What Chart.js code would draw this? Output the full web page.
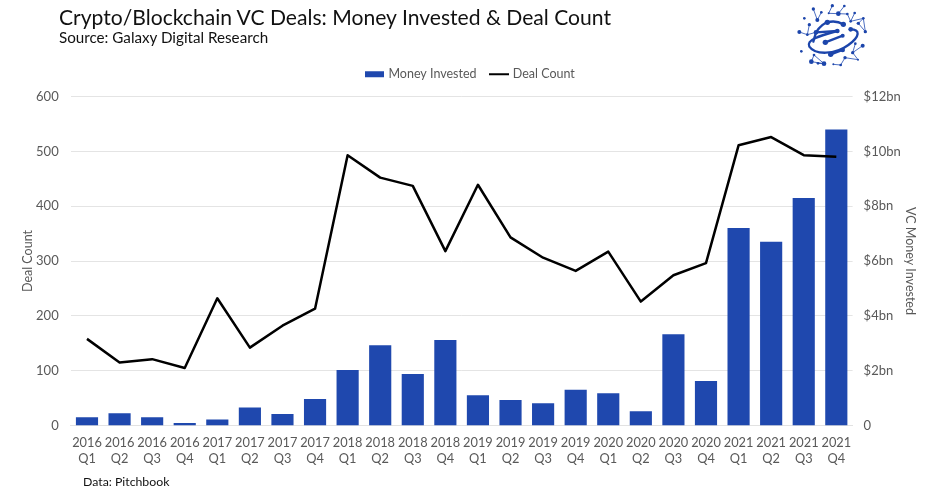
<!DOCTYPE html>
<html lang="en">
<head>
<meta charset="UTF-8">
<title>Crypto/Blockchain VC Deals</title>
<script src="https://cdn.jsdelivr.net/npm/chart.js"></script>
<style>
  html, body { margin: 0; padding: 0; background: #fff; }
  #wrap { position: relative; width: 932px; height: 498px; overflow: hidden; font-family: Lato, sans-serif; }
  #chart { position: absolute; left: 0; top: 0; }
  .txt { position: absolute; white-space: nowrap; color: #111; }
  #title { left: 59px; top: 3px; font-size: 21.1px; line-height: 28px; }
  #source { left: 59px; top: 28px; font-size: 15.2px; line-height: 18px; }
  #note { left: 83px; top: 474px; font-size: 12.3px; line-height: 16px; }
  #logo { position: absolute; left: 780px; top: 0; filter: blur(0.3px); }
</style>
</head>
<body>
<div id="wrap">
  <canvas id="chart" width="932" height="498"></canvas>
  <div class="txt" id="title">Crypto/Blockchain VC Deals: Money Invested &amp; Deal Count</div>
  <div class="txt" id="source">Source: Galaxy Digital Research</div>
  <div class="txt" id="note">Data: Pitchbook</div>
  <svg id="logo" width="100" height="75" viewBox="0 0 300 225">
    <g stroke="#2a52b5" stroke-width="2.5" fill="none">
      <path d="M100 27 L112 60 L124 37"/><path d="M157 17 L146 40 L175 41 L193 18"/>
      <path d="M175 41 L202 42 L212 64 L224 39"/><path d="M212 64 L250 55 L256 95 L235 70 L250 55"/>
      <path d="M88 74 L82 104 L58 96"/><path d="M82 104 L108 97"/>
      <path d="M226 131 L218 158 L248 137"/><path d="M218 158 L234 179 L195 173 L182 195 L160 193"/>
      <path d="M102 165 L94 185 L132 191 L114 190"/><path d="M102 165 L132 191"/>
    </g>
    <g stroke="#1c45ab" stroke-width="7" fill="none" stroke-linecap="round">
      <path d="M108 97 C120 78 135 68 142 67 C160 62 178 66 190 73"/>
      <path d="M108 97 L172 93"/>
      <path d="M212 88 C240 88 242 108 205 135 C165 165 105 165 88 140 C78 120 115 108 172 93"/>
      <path d="M136 127 L188 107"/>
      <path d="M108 97 L100 125"/><path d="M152 163 L188 150"/>
    </g>
    <g fill="#1c45ab">
      <circle cx="100" cy="27" r="5"/><circle cx="157" cy="17" r="5"/><circle cx="193" cy="18" r="4"/>
      <circle cx="124" cy="37" r="4"/><circle cx="175" cy="41" r="7"/><circle cx="146" cy="40" r="3"/>
      <circle cx="202" cy="42" r="4"/><circle cx="224" cy="39" r="4"/><circle cx="73" cy="55" r="4"/>
      <circle cx="112" cy="60" r="6"/><circle cx="142" cy="67" r="8"/><circle cx="190" cy="73" r="8"/>
      <circle cx="212" cy="64" r="4"/><circle cx="250" cy="55" r="4"/><circle cx="235" cy="70" r="5"/>
      <circle cx="88" cy="74" r="5"/><circle cx="58" cy="96" r="6"/><circle cx="82" cy="104" r="4"/>
      <circle cx="108" cy="97" r="7"/><circle cx="172" cy="93" r="7"/><circle cx="212" cy="88" r="7"/>
      <circle cx="256" cy="95" r="5"/><circle cx="188" cy="107" r="6"/><circle cx="136" cy="127" r="8"/>
      <circle cx="226" cy="131" r="4"/><circle cx="248" cy="137" r="6"/><circle cx="188" cy="150" r="7"/>
      <circle cx="64" cy="154" r="4"/><circle cx="152" cy="163" r="8"/><circle cx="218" cy="158" r="5"/>
      <circle cx="102" cy="165" r="4"/><circle cx="195" cy="173" r="5"/><circle cx="234" cy="179" r="3"/>
      <circle cx="94" cy="185" r="7"/><circle cx="114" cy="190" r="4"/><circle cx="132" cy="191" r="7"/>
      <circle cx="160" cy="193" r="3"/><circle cx="182" cy="195" r="4"/>
    </g>
  </svg>
</div>
<script>
  const years = ['2016','2016','2016','2016','2017','2017','2017','2017','2018','2018','2018','2018',
                 '2019','2019','2019','2019','2020','2020','2020','2020','2021','2021','2021','2021'];
  const quarters = ['Q1','Q2','Q3','Q4','Q1','Q2','Q3','Q4','Q1','Q2','Q3','Q4',
                    'Q1','Q2','Q3','Q4','Q1','Q2','Q3','Q4','Q1','Q2','Q3','Q4'];
  // $bn
  const moneyInvested = [0.3, 0.45, 0.3, 0.09, 0.22, 0.66, 0.42, 0.97, 2.02, 2.93, 1.88, 3.12,
                         1.1, 0.93, 0.81, 1.3, 1.18, 0.52, 3.33, 1.62, 7.2, 6.7, 8.3, 10.8];
  const dealCount = [158, 115, 121, 105, 232, 142, 182, 213, 493, 452, 437, 318,
                     439, 343, 306, 282, 317, 226, 274, 296, 511, 526, 493, 490];
  const leftTicks = [0, 100, 200, 300, 400, 500, 600];
  const rightTicks = [0, 2, 4, 6, 8, 10, 12];

  const textColor = '#595959';
  const blue = '#1f48ae';

  // little legend swatches, the default ones are too square
  function swatch(w, h, color) {
    const c = document.createElement('canvas');
    c.width = w; c.height = 8;
    const g = c.getContext('2d');
    g.fillStyle = color;
    g.fillRect(0, (8 - h) / 2, w, h);
    return c;
  }

  // extra room under the legend
  const legendGap = {
    id: 'legendGap',
    beforeLayout(chart) {
      const legend = chart.legend;
      if (legend.gapAdded) return;
      const fit = legend.fit;
      legend.fit = function () { fit.call(this); this.height += 6; };
      legend.gapAdded = true;
    }
  };

  Chart.defaults.font.family = 'Lato, sans-serif';
  Chart.defaults.color = textColor;

  new Chart(document.getElementById('chart'), {
    type: 'bar',
    plugins: [legendGap],
    data: {
      labels: years.map((y, i) => [y, quarters[i]]),
      datasets: [
        {
          type: 'line', label: 'Deal Count', data: dealCount, yAxisID: 'y',
          borderColor: '#000', borderWidth: 2.5, pointRadius: 0, tension: 0,
          borderJoinStyle: 'round', order: 0, pointStyle: swatch(20, 2, '#000')
        },
        {
          label: 'Money Invested', data: moneyInvested, yAxisID: 'y1',
          backgroundColor: blue, barPercentage: 0.68, categoryPercentage: 1,
          order: 1, pointStyle: swatch(19, 6, blue)
        }
      ]
    },
    options: {
      responsive: false,
      animation: false,
      layout: { padding: { left: 20.5, right: 10.5, top: 53, bottom: 32 } },
      plugins: {
        title: { display: false },
        tooltip: { enabled: false },
        legend: {
          position: 'top',
          reverse: true,
          labels: { usePointStyle: true, pointStyleWidth: 15, font: { size: 12.5 }, color: textColor, padding: 15, boxHeight: 8 }
        }
      },
      scales: {
        x: {
          afterFit: axis => { axis.height = 40.5; },
          grid: { display: false },
          border: { color: '#e2e2e2' },
          ticks: { autoSkip: false, maxRotation: 0, minRotation: 0, font: { size: 12.8 }, color: textColor, padding: 2 }
        },
        y: {
          min: 0, max: 600, position: 'left',
          afterBuildTicks: axis => { axis.ticks = leftTicks.map(v => ({ value: v })); },
          afterFit: axis => { axis.width = 50.2; },
          title: { display: true, text: 'Deal Count', font: { size: 12.5 }, color: textColor, padding: { top: 0, bottom: 2 } },
          grid: { color: '#e4e4e4', drawTicks: false },
          border: { display: false },
          ticks: { font: { size: 13 }, color: textColor, padding: 12 }
        },
        y1: {
          min: 0, max: 12, position: 'right',
          afterBuildTicks: axis => { axis.ticks = rightTicks.map(v => ({ value: v })); },
          afterFit: axis => { axis.width = 68.9; },
          title: { display: true, text: 'VC Money Invested', font: { size: 12.5 }, color: textColor, padding: { top: 4, bottom: 2 } },
          grid: { display: false, drawTicks: false },
          border: { display: false },
          ticks: {
            font: { size: 13 }, color: textColor, padding: 11,
            callback: v => v === 0 ? '0' : '$' + v + 'bn'
          }
        }
      }
    }
  });
</script>
</body>
</html>
